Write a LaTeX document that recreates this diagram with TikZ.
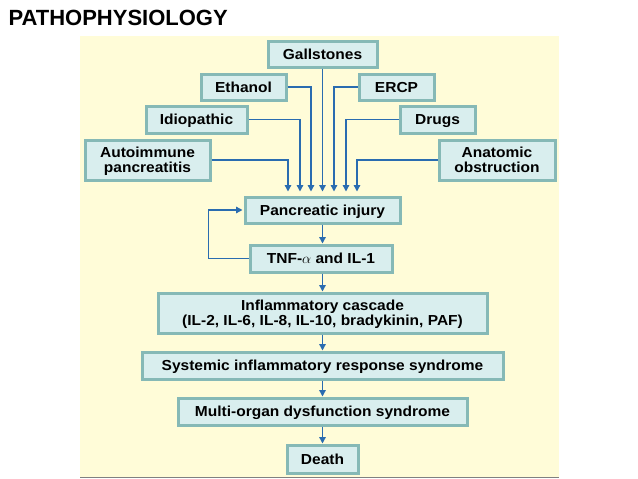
\documentclass[tikz,border=0pt]{standalone}
\usepackage{fontspec}
\setmainfont{Liberation Sans}
\newfontfamily\boxfont[FakeStretch=1.07]{Liberation Sans}
\usetikzlibrary{arrows.meta}
\definecolor{panel}{HTML}{FFFCD8}
\definecolor{boxfill}{HTML}{D9EEEE}
\definecolor{boxedge}{HTML}{86B9B6}
\definecolor{arrowblue}{HTML}{2A6CB0}
\tikzset{
  x=1pt, y=-1pt,
  cbox/.style={draw=boxedge, line width=3pt, fill=boxfill, inner sep=0pt,
    align=center, font=\boxfont\bfseries\fontsize{14.5}{15.5}\selectfont,
    text height=10.4pt, text depth=0pt, minimum width=#1},
  twoline/.style={text height=25.9pt, text depth=0pt},
  flow/.style={draw=arrowblue, line width=1.3pt,
    -{Triangle[length=6.5pt,width=6.5pt]}},
}
\begin{document}
\begin{tikzpicture}
\useasboundingbox (0,0) rectangle (638,479);
\fill[white] (0,0) rectangle (638,479);
\fill[panel] (80,36) rectangle (559,477);
\draw[gray, line width=1.5pt] (80,477.5) -- (559,477.5);
\node[anchor=base west, font=\bfseries\fontsize{22}{24}\selectfont] (title) at (5,25) {PATHOPHYSIOLOGY};

\node[cbox=109pt, minimum height=26pt] (gall) at (322.5,54) {Gallstones};
\node[cbox=85pt, minimum height=26pt] (eth) at (243.5,87) {Ethanol};
\node[cbox=75pt, minimum height=26pt] (ercp) at (396.5,87) {ERCP};
\node[cbox=101pt, minimum height=27pt] (idio) at (196.5,119.5) {Idiopathic};
\node[cbox=75pt, minimum height=27pt] (drugs) at (437.5,119.5) {Drugs};
\node[cbox=125pt, minimum height=40pt, twoline] (auto) at (147.5,160) {Autoimmune\\pancreatitis};
\node[cbox=116pt, minimum height=40pt, twoline] (anat) at (497,160) {Anatomic\\obstruction};
\node[cbox=155pt, minimum height=26pt] (inj) at (322.5,210) {Pancreatic injury};
\node[cbox=142pt, minimum height=27pt] (tnf) at (321,258.5) {TNF-$\alpha$ and IL-1};
\node[cbox=329pt, minimum height=40pt, twoline] (casc) at (322.5,313) {Inflammatory cascade\\(IL-2, IL-6, IL-8, IL-10, bradykinin, PAF)};
\node[cbox=361pt, minimum height=27pt] (sirs) at (322.5,365.5) {Systemic inflammatory response syndrome};
\node[cbox=289pt, minimum height=27pt] (mods) at (322.5,411.5) {Multi-organ dysfunction syndrome};
\node[cbox=71pt, minimum height=28pt] (death) at (322.5,459) {Death};

\draw[flow, shorten >=4pt] (gall.south) -- (inj.north);
\draw[flow, shorten >=4pt] (eth.east) -| ([xshift=-11.5pt]inj.north);
\draw[flow, shorten >=4pt] (idio.east) -| ([xshift=-22.5pt]inj.north);
\draw[flow, shorten >=4pt] (auto.east) -| ([xshift=-34.5pt]inj.north);
\draw[flow, shorten >=4pt] (ercp.west) -| ([xshift=11.5pt]inj.north);
\draw[flow, shorten >=4pt] (drugs.west) -| ([xshift=23.5pt]inj.north);
\draw[flow, shorten >=4pt] (anat.west) -| ([xshift=34.5pt]inj.north);

\draw[flow] (inj.south -| casc.north) -- (tnf.north -| casc.north);
\draw[flow] (tnf.south -| casc.north) -- (casc.north);
\draw[flow] (casc.south) -- (sirs.north);
\draw[flow] (sirs.south) -- (mods.north);
\draw[flow] (mods.south) -- (death.north);
\draw[flow, shorten >=1pt] (tnf.west) -- ++(-40,0) |- (inj.west);
\end{tikzpicture}
\end{document}
